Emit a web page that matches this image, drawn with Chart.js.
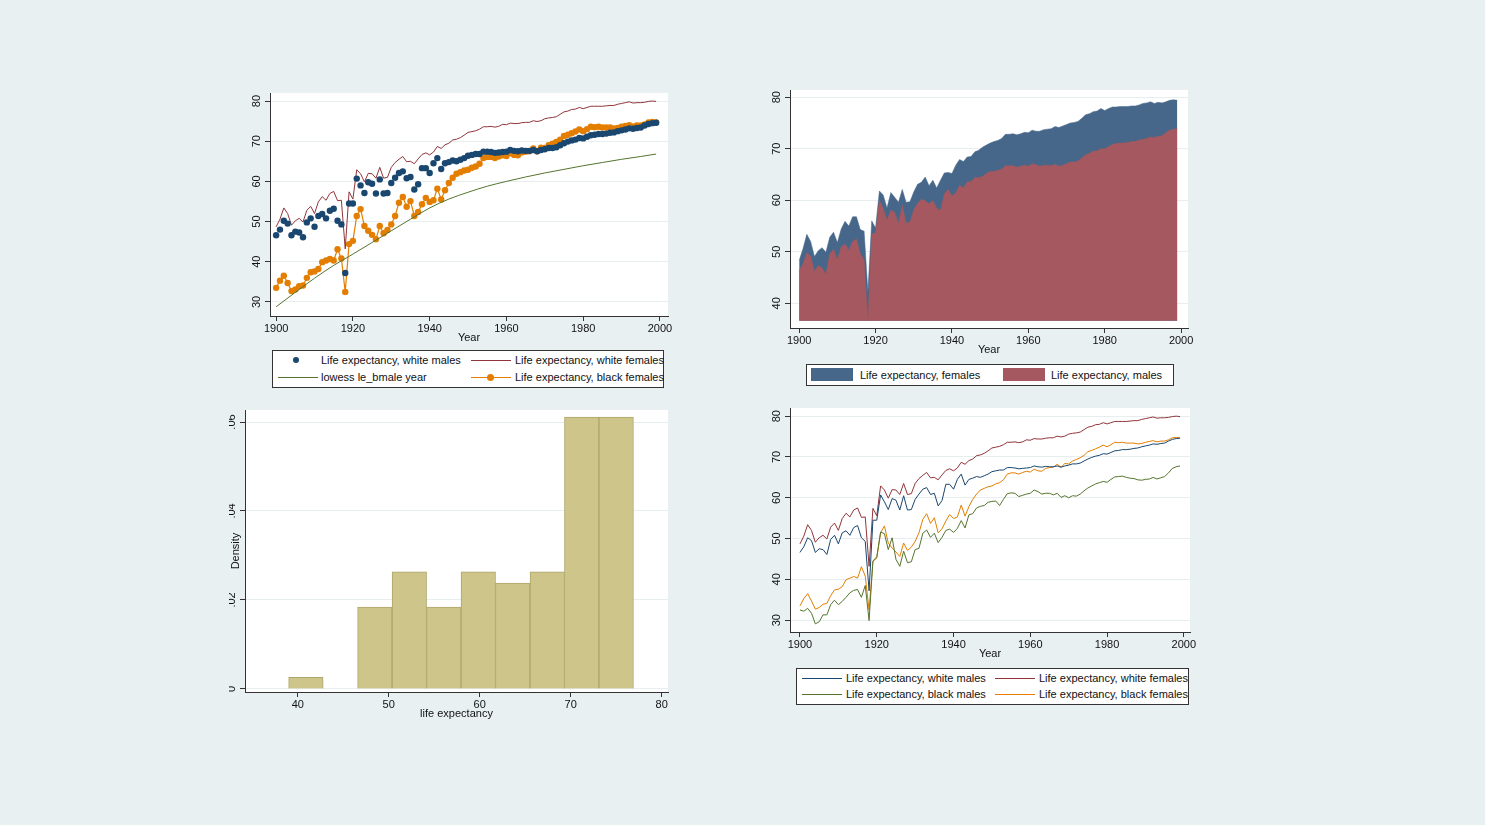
<!DOCTYPE html>
<html><head><meta charset="utf-8">
<script src="https://cdn.jsdelivr.net/npm/chart.js@4/dist/chart.umd.min.js"></script>
<style>
body{margin:0;width:1485px;height:825px;background:#e8f0f2;position:relative;overflow:hidden;font-family:'Liberation Sans',Arial,sans-serif;}
canvas{position:absolute;}
.leg{position:absolute;border:1px solid #333;background:#fff;font-size:11px;color:#111;}
.it{position:absolute;white-space:nowrap;line-height:13px;}
.ln{position:absolute;height:0;}
.sw{position:absolute;}
</style></head><body>
<canvas id="c1"></canvas><canvas id="c2"></canvas><canvas id="c3"></canvas><canvas id="c4"></canvas>
<div class="leg" style="left:272px;top:350px;width:390px;height:36px">
 <div class="sw" style="left:20px;top:6px;width:6px;height:6px;border-radius:50%;background:#1a476f"></div>
 <div class="it" style="left:48px;top:3px">Life expectancy, white males</div>
 <div class="ln" style="left:198px;top:9px;width:40px;border-top:1px solid #90353b"></div>
 <div class="it" style="left:242px;top:3px">Life expectancy, white females</div>
 <div class="ln" style="left:5px;top:26px;width:40px;border-top:1px solid #55752f"></div>
 <div class="it" style="left:48px;top:20px">lowess le_bmale year</div>
 <div class="ln" style="left:198px;top:26px;width:40px;border-top:1px solid #e37e00"></div>
 <div class="sw" style="left:214px;top:23px;width:7px;height:7px;border-radius:50%;background:#e37e00"></div>
 <div class="it" style="left:242px;top:20px">Life expectancy, black females</div>
</div>
<div class="leg" style="left:806px;top:364px;width:366px;height:20px">
 <div class="sw" style="left:4px;top:3px;width:42px;height:13px;background:#46678a"></div>
 <div class="it" style="left:53px;top:4px">Life expectancy, females</div>
 <div class="sw" style="left:196px;top:3px;width:42px;height:13px;background:#a5585f"></div>
 <div class="it" style="left:244px;top:4px">Life expectancy, males</div>
</div>
<div class="leg" style="left:796px;top:668px;width:391px;height:35px">
 <div class="ln" style="left:5px;top:9px;width:40px;border-top:1px solid #1a476f"></div>
 <div class="it" style="left:49px;top:3px">Life expectancy, white males</div>
 <div class="ln" style="left:198px;top:9px;width:40px;border-top:1px solid #90353b"></div>
 <div class="it" style="left:242px;top:3px">Life expectancy, white females</div>
 <div class="ln" style="left:5px;top:25px;width:40px;border-top:1px solid #55752f"></div>
 <div class="it" style="left:49px;top:19px">Life expectancy, black males</div>
 <div class="ln" style="left:198px;top:25px;width:40px;border-top:1px solid #e37e00"></div>
 <div class="it" style="left:242px;top:19px">Life expectancy, black females</div>
</div>
<script>
const years=[];for(let y=1900;y<=1999;y++)years.push(y);
const le_wmale=[46.6,48.0,50.2,49.5,46.6,47.5,47.3,46.1,49.8,50.8,48.7,51.4,51.9,50.8,52.7,53.2,50.2,49.3,37.2,54.5,54.5,60.7,59.0,57.1,59.8,59.4,57.0,60.5,57.0,57.1,59.6,60.9,62.1,62.5,60.8,61.1,58.0,59.3,63.3,63.3,62.1,64.5,65.8,63.1,64.5,64.8,65.2,65.0,65.4,65.8,66.4,66.6,66.8,66.8,67.4,67.4,67.3,67.1,67.2,67.3,67.4,67.8,67.6,67.5,67.7,67.6,67.6,67.8,67.5,67.8,68.0,68.3,68.3,68.5,69.0,69.5,69.9,70.2,70.4,70.8,70.7,71.1,71.5,71.6,71.8,71.8,71.9,72.1,72.2,72.5,72.7,72.9,73.2,73.1,73.3,73.4,73.9,74.3,74.5,74.6];
const le_wfemale=[48.7,50.6,53.4,52.0,49.1,50.2,50.8,49.9,52.8,53.8,52.0,54.9,56.2,55.3,57.0,57.5,55.2,55.3,43.2,57.4,55.6,62.9,61.9,59.9,62.0,61.9,60.8,63.5,60.8,61.0,63.5,64.7,65.5,66.2,64.9,65.0,64.4,65.6,66.7,67.1,66.6,67.3,68.7,68.2,69.1,69.5,70.3,70.5,70.9,71.5,72.2,72.4,72.6,73.0,73.6,73.6,73.7,73.5,73.7,74.2,74.1,74.5,74.4,74.4,74.6,74.7,74.7,75.1,74.9,75.1,75.6,75.8,75.9,76.1,76.7,77.3,77.5,77.9,78.0,78.4,78.1,78.4,78.7,78.7,78.7,78.7,78.8,78.9,78.9,79.2,79.4,79.6,79.8,79.5,79.6,79.6,79.7,79.9,80.0,79.9];
const le_bmale=[32.5,32.2,32.9,31.7,29.1,29.6,31.3,31.3,33.8,34.9,33.8,34.6,35.6,36.7,37.3,37.5,35.6,38.5,29.9,44.5,45.5,51.6,51.2,47.3,50.2,44.9,43.2,46.9,44.1,44.3,47.3,47.6,51.3,52.1,50.3,51.3,49.0,50.3,52.0,52.3,51.5,52.5,54.4,52.6,55.8,56.1,57.5,57.9,58.1,58.9,59.1,59.2,58.1,59.6,61.0,61.2,61.1,60.3,60.6,60.9,61.1,61.9,61.5,60.9,61.1,61.1,60.7,61.1,60.1,60.5,60.0,60.5,60.4,60.9,61.7,62.4,62.9,63.4,63.7,64.0,63.8,64.5,65.1,65.2,65.3,65.0,64.8,64.7,64.4,64.3,64.5,64.6,65.0,64.6,64.9,65.2,66.1,67.2,67.6,67.8];
const le_bfemale=[33.5,35.3,36.5,34.7,32.7,33.1,33.9,34.1,36.0,37.4,37.6,38.2,39.9,40.3,40.7,40.3,43.1,40.8,32.5,44.4,45.2,51.4,53.1,48.9,47.7,46.7,45.6,48.9,47.1,47.9,49.3,51.4,54.7,56.1,53.7,55.1,51.4,52.4,54.3,55.9,54.9,55.3,58.2,55.5,57.8,59.6,60.9,61.9,62.3,62.7,62.9,63.4,63.7,64.4,65.8,66.1,66.1,65.8,66.2,66.5,66.3,67.0,66.6,66.5,67.2,67.4,67.5,68.2,67.5,68.4,68.3,69.0,69.4,69.8,70.4,71.3,71.6,72.0,72.4,72.9,72.5,73.0,73.6,73.5,73.6,73.4,73.4,73.4,73.2,73.3,73.6,73.8,74.0,73.7,73.9,73.9,74.2,74.7,74.8,74.7];
const le_male=[46.3,47.6,49.8,49.1,46.2,47.3,46.9,45.6,49.5,50.5,48.4,50.9,51.5,50.3,52.0,52.5,49.6,48.4,36.6,53.5,53.6,60.0,58.4,56.1,58.1,57.6,55.5,59.0,55.6,55.8,58.1,59.4,60.2,59.9,59.3,59.9,58.5,58.0,61.2,62.1,60.8,61.4,62.9,62.4,63.6,63.6,64.4,64.4,64.6,65.2,65.6,65.6,65.8,66.0,66.7,66.7,66.7,66.4,66.6,66.8,66.6,67.1,66.9,66.6,66.8,66.8,66.7,67.0,66.6,66.8,67.1,67.4,67.4,67.6,68.2,68.8,69.1,69.5,69.6,70.0,70.0,70.4,70.8,71.0,71.1,71.1,71.2,71.4,71.4,71.7,71.8,72.0,72.3,72.2,72.4,72.5,73.1,73.6,73.8,73.9];
const le_female=[48.3,50.6,53.4,52.0,49.1,50.2,50.8,49.9,52.8,53.8,51.8,54.4,55.9,55.0,56.8,56.8,54.3,54.0,42.2,56.0,54.6,61.8,61.0,58.5,61.5,60.6,59.6,62.1,59.6,59.7,61.6,63.1,63.5,64.5,62.8,63.9,62.4,63.9,65.3,65.4,65.2,66.8,67.9,67.5,68.4,68.5,69.4,69.7,70.3,70.7,71.1,71.4,71.6,72.0,72.8,72.8,72.9,72.7,72.9,73.2,73.1,73.6,73.4,73.4,73.7,73.8,73.9,74.3,74.1,74.4,74.7,75.0,75.1,75.3,75.9,76.6,76.8,77.2,77.3,77.8,77.4,77.8,78.1,78.1,78.2,78.2,78.2,78.3,78.3,78.5,78.8,78.9,79.1,78.8,79.0,78.9,79.1,79.4,79.5,79.4];
const lowessYears=[1900,1905,1910,1915,1920,1925,1930,1935,1940,1945,1950,1955,1960,1965,1970,1975,1980,1985,1990,1995,1999];
const lowessVals=[28.8,32.4,35.9,39.1,41.9,44.8,47.7,50.6,53.4,55.6,57.3,58.8,60.0,61.1,62.1,63.0,63.9,64.7,65.5,66.2,66.8];
const binLeft=[39.0,42.79,46.58,50.37,54.16,57.95,61.74,65.53,69.32,73.11];
const density=[0.0026,null,0.0184,0.0263,0.0184,0.0263,0.0238,0.0263,0.0611,0.0611];
const binWidth=3.79;
const yearTicks=[1900,1920,1940,1960,1980,2000];
const leTicks=[30,40,50,60,70,80];
const leTicks2=[40,50,60,70,80];
const densTicks=[0,0.02,0.04,0.06];
const densLabels=['0','.02','.04','.06'];
const histXTicks=[40,50,60,70,80];

const NAVY='#1a476f',MAROON='#90353b',GREEN='#55752f',ORANGE='#e37e00';
const FONT={family:"'Liberation Sans', Arial, sans-serif",size:11};
Chart.defaults.font=FONT;Chart.defaults.color='#111';Chart.defaults.animation=false;
const xy=(a)=>years.map((y,i)=>({x:y,y:a[i]}));

const bgPlug={id:'bg',beforeDraw(c){const a=c.chartArea,x=c.ctx;x.save();x.fillStyle='#fff';x.fillRect(a.left,a.top,a.right-a.left,a.bottom-a.top);x.restore();},
 afterDraw(c){const s=c.scales.y,x=c.ctx,o=c.options.plugins.bg;x.save();x.font="11px 'Liberation Sans', Arial";x.fillStyle='#111';x.textAlign='center';x.textBaseline='bottom';
 o.ticks.forEach((v,i)=>{const p=s.getPixelForValue(v);x.save();x.translate(c.chartArea.left-8,p);x.rotate(-Math.PI/2);x.fillText(o.labels?o.labels[i]:String(v),0,0);x.restore();});x.restore();}};

function make(id,left,top,plotW,plotH,yW,cfg,xr,yr,xt,yt,labels,xtitle,ytitle){
 const el=document.getElementById(id);const W=plotW+yW+15,H=plotH+5+29;
 el.style.left=(left-yW)+'px';el.style.top=(top-5)+'px';el.width=W;el.height=H;el.style.width=W+'px';el.style.height=H+'px';
 cfg.options={responsive:false,maintainAspectRatio:false,layout:{padding:{top:5,right:15,left:0,bottom:0}},
 plugins:{legend:{display:false},tooltip:{enabled:false},bg:{ticks:yt,labels:labels}},
 scales:{
  x:{type:'linear',offset:false,min:xr[0],max:xr[1],afterBuildTicks:s=>{s.ticks=xt.map(v=>({value:v}));},afterFit:s=>{s.height=29;},
   grid:{display:true,offset:false,drawOnChartArea:false,tickLength:5,color:'#333'},border:{color:'#333'},ticks:{padding:1,maxRotation:0,font:FONT,color:'#111',callback:v=>String(v)},
   title:{display:true,text:xtitle,padding:0,font:FONT,color:'#111'}},
  y:{type:'linear',min:yr[0],max:yr[1],afterBuildTicks:s=>{s.ticks=yt.map(v=>({value:v}));},afterFit:s=>{s.width=yW;},
   grid:{color:'#e6eef0',tickLength:5,tickColor:'#333'},border:{color:'#333'},ticks:{display:false},
   title:{display:!!ytitle,text:ytitle||'',padding:0,font:FONT,color:'#111'}}
 }};
 cfg.plugins=[bgPlug];
 return new Chart(el,cfg);
}

make('c1',270,93,398,223,25,{type:'line',data:{datasets:[
 {data:xy(le_wmale),showLine:false,pointRadius:3.2,pointBackgroundColor:NAVY,pointBorderColor:NAVY,pointBorderWidth:0},
 {data:xy(le_wfemale),borderColor:MAROON,borderWidth:1,pointRadius:0},
 {data:lowessYears.map((y,i)=>({x:y,y:lowessVals[i]})),borderColor:GREEN,borderWidth:1,pointRadius:0,cubicInterpolationMode:'monotone'},
 {data:xy(le_bfemale),borderColor:ORANGE,borderWidth:1.2,pointRadius:3.2,pointBackgroundColor:ORANGE,pointBorderColor:ORANGE,pointBorderWidth:0}
]}},[1898.4,2002.1],[26.5,82],yearTicks,leTicks,null,'Year');

make('c2',790,90,398,238,25,{type:'line',data:{datasets:[
 {data:xy(le_male),borderColor:'#a5585f',backgroundColor:'#a5585f',borderWidth:0.5,pointRadius:0,fill:{value:36.6},order:1},
 {data:xy(le_female),borderColor:'#46678a',backgroundColor:'#46678a',borderWidth:0.5,pointRadius:0,fill:{value:36.6},order:2}
]}},[1897.6,2001.8],[35.2,81.4],yearTicks,leTicks2,null,'Year');

make('c3',245,410,423,282,16,{type:'bar',data:{datasets:[
 {data:binLeft.map((b,i)=>({x:b+binWidth/2,y:density[i]})),backgroundColor:'#cdc58a',borderColor:'#aea56a',borderWidth:1,barPercentage:1,categoryPercentage:1}
]}},[34.2,80.7],[-0.0007,0.0627],histXTicks,densTicks,densLabels,'life expectancy','Density');

make('c4',790,408,400,224,25,{type:'line',data:{datasets:[
 {data:xy(le_wmale),borderColor:NAVY,borderWidth:1,pointRadius:0},
 {data:xy(le_wfemale),borderColor:MAROON,borderWidth:1,pointRadius:0},
 {data:xy(le_bmale),borderColor:GREEN,borderWidth:1,pointRadius:0},
 {data:xy(le_bfemale),borderColor:ORANGE,borderWidth:1,pointRadius:0}
]}},[1897.4,2001.6],[27.1,82],yearTicks,leTicks,null,'Year');
</script>
</body></html>
